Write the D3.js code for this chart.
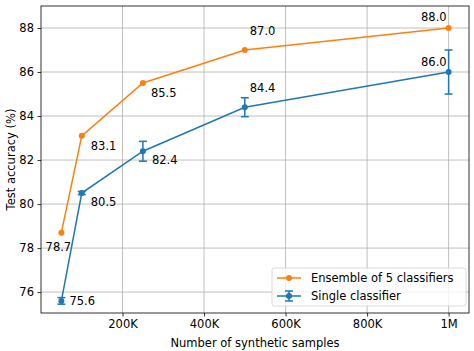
<!DOCTYPE html>
<html>
<head>
<meta charset="utf-8">
<script src="https://cdn.jsdelivr.net/npm/d3@7"></script>
<style>
  body { margin: 0; background: #fff; }
  svg text { font-family: "DejaVu Sans", sans-serif; }
</style>
</head>
<body>
<div id="chart"></div>
<script>
// samples and accuracies
const samples = [50000, 100000, 250000, 500000, 1000000];
const ensembleAcc = [78.7, 83.1, 85.5, 87.0, 88.0];
const singleAcc = [75.6, 80.5, 82.4, 84.4, 86.0];
const singleErr = [0.15, 0.07, 0.45, 0.43, 1.0];
const xTicks = [200000, 400000, 600000, 800000, 1000000];
const xTickLabels = ["200K", "400K", "600K", "800K", "1M"];
const yTicks = [76, 78, 80, 82, 84, 86, 88];
const seriesNames = ["Ensemble of 5 classifiers", "Single classifier"];

// label placement relative to the point (dx, dy, anchor)
const ensembleLabelPos = [[-3, 18, "middle"], [9, 14, "start"], [8, 14, "start"], [5, -15, "start"], [-2, -7, "end"]];
const singleLabelPos = [[8, 4, "start"], [9, 13, "start"], [9, 13, "start"], [5, -15, "start"], [-2, -6, "end"]];

const W = 474, H = 351;
const margin = { top: 6, right: 5, bottom: 38, left: 41 };
const width = W - margin.left - margin.right;
const height = H - margin.top - margin.bottom;
const orange = "#ff7f0e", blue = "#1f77b4";

const svg = d3.select("#chart").append("svg")
  .attr("width", W).attr("height", H);
const g = svg.append("g")
  .attr("transform", `translate(${margin.left},${margin.top})`);

const x = d3.scaleLinear().domain([0, 1050000]).range([0, width]);
const y = d3.scaleLinear().domain([75.05, 89.0]).range([height, 0]);

// grid
g.append("g").selectAll("line").data(xTicks).join("line")
  .attr("x1", d => x(d)).attr("x2", d => x(d))
  .attr("y1", 0).attr("y2", height)
  .attr("stroke", "#b0b0b0").attr("stroke-width", 0.8);
g.append("g").selectAll("line").data(yTicks).join("line")
  .attr("y1", d => y(d)).attr("y2", d => y(d))
  .attr("x1", 0).attr("x2", width)
  .attr("stroke", "#b0b0b0").attr("stroke-width", 0.8);

// axes
const xAxis = g.append("g")
  .attr("transform", `translate(0,${height})`)
  .call(d3.axisBottom(x).tickValues(xTicks)
    .tickFormat((d, i) => xTickLabels[i]).tickSize(3.5).tickPadding(3.5));
const yAxis = g.append("g")
  .call(d3.axisLeft(y).tickValues(yTicks).tickSize(3.5).tickPadding(3.5));
[xAxis, yAxis].forEach(a => {
  a.select(".domain").remove();
  a.selectAll("text").style("font-size", "11.5px").attr("fill", "#000");
  a.selectAll("line").attr("stroke", "#000").attr("stroke-width", 0.8);
});

g.append("rect")
  .attr("width", width).attr("height", height)
  .attr("fill", "none").attr("stroke", "#000").attr("stroke-width", 0.8);

// axis titles
svg.append("text")
  .attr("x", margin.left + width / 2).attr("y", 347)
  .attr("text-anchor", "middle").style("font-size", "11.5px")
  .text("Number of synthetic samples");
svg.append("text")
  .attr("transform", `translate(15,${margin.top + height / 2}) rotate(-90)`)
  .attr("text-anchor", "middle").style("font-size", "11.5px")
  .text("Test accuracy (%)");

const line = d3.line().x(d => x(d[0])).y(d => y(d[1]));
const ensData = samples.map((s, i) => [s, ensembleAcc[i]]);
const sglData = samples.map((s, i) => [s, singleAcc[i]]);

// single classifier with error bars
g.append("path").datum(sglData).attr("d", line)
  .attr("fill", "none").attr("stroke", blue).attr("stroke-width", 1.5);
const eb = g.append("g").attr("stroke", blue).attr("stroke-width", 1.5);
samples.forEach((s, i) => {
  const lo = y(singleAcc[i] - singleErr[i]), hi = y(singleAcc[i] + singleErr[i]);
  eb.append("line").attr("x1", x(s)).attr("x2", x(s)).attr("y1", lo).attr("y2", hi);
  eb.append("line").attr("x1", x(s) - 4).attr("x2", x(s) + 4).attr("y1", lo).attr("y2", lo);
  eb.append("line").attr("x1", x(s) - 4).attr("x2", x(s) + 4).attr("y1", hi).attr("y2", hi);
});
g.append("g").selectAll("circle").data(sglData).join("circle")
  .attr("cx", d => x(d[0])).attr("cy", d => y(d[1])).attr("r", 3).attr("fill", blue);

// ensemble
g.append("path").datum(ensData).attr("d", line)
  .attr("fill", "none").attr("stroke", orange).attr("stroke-width", 1.5);
g.append("g").selectAll("circle").data(ensData).join("circle")
  .attr("cx", d => x(d[0])).attr("cy", d => y(d[1])).attr("r", 3).attr("fill", orange);

// value labels
function labels(data, pos) {
  g.append("g").selectAll("text").data(data).join("text")
    .attr("x", (d, i) => x(d[0]) + pos[i][0])
    .attr("y", (d, i) => y(d[1]) + pos[i][1])
    .attr("text-anchor", (d, i) => pos[i][2])
    .style("font-size", "11.5px")
    .text(d => d[1].toFixed(1));
}
labels(ensData, ensembleLabelPos);
labels(sglData, singleLabelPos);

// legend
const lg = svg.append("g").attr("transform", "translate(272,268)");
lg.append("rect").attr("width", 194).attr("height", 38).attr("rx", 2.5)
  .attr("fill", "#fff").attr("fill-opacity", 0.8)
  .attr("stroke", "#d0d0d0").attr("stroke-width", 0.8);
[orange, blue].forEach((c, i) => {
  const row = lg.append("g").attr("transform", `translate(0,${10 + i * 18})`);
  row.append("line").attr("x1", 5).attr("x2", 29).attr("stroke", c).attr("stroke-width", 1.5);
  row.append("circle").attr("cx", 17).attr("r", 3).attr("fill", c);
  if (i === 1) {
    row.append("line").attr("x1", 17).attr("x2", 17).attr("y1", -5).attr("y2", 5).attr("stroke", c).attr("stroke-width", 1.5);
    row.append("line").attr("x1", 13).attr("x2", 21).attr("y1", -5).attr("y2", -5).attr("stroke", c).attr("stroke-width", 1.5);
    row.append("line").attr("x1", 13).attr("x2", 21).attr("y1", 5).attr("y2", 5).attr("stroke", c).attr("stroke-width", 1.5);
  }
  row.append("text").attr("x", 39).attr("y", 4).style("font-size", "11.5px").text(seriesNames[i]);
});
</script>
</body>
</html>
